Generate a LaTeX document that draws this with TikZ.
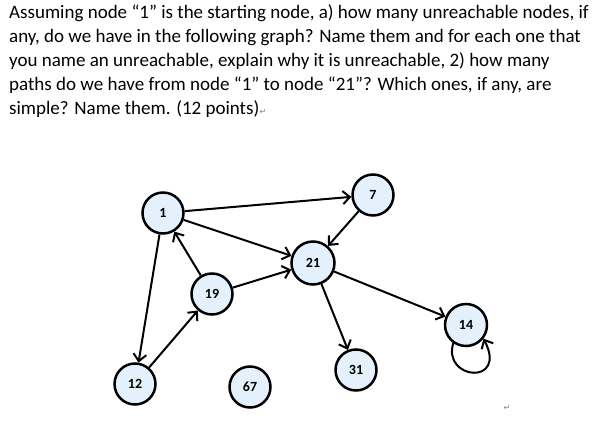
\documentclass[tikz,border=0pt]{standalone}
\usepackage{fontspec}
\setmainfont{Carlito}
\newfontfamily\symfont{DejaVu Sans}
\usetikzlibrary{arrows.meta}
\definecolor{nodefill}{HTML}{E4F0FB}
\begin{document}
\begin{tikzpicture}[x=1pt,y=-1pt,
  vtx/.style={circle,draw=black,line width=2.5pt,fill=nodefill,minimum size=41pt,inner sep=0pt,font=\fontsize{14}{14}\selectfont\bfseries},
  edge/.style={line width=2pt,-{Straight Barb[length=7pt,width=13pt,line width=2pt]}},
  para/.style={anchor=base west,inner sep=0pt,font=\fontsize{19}{24}\selectfont},
  pmark/.style={inner sep=0pt,text=gray,font=\symfont\fontsize{8}{8}\selectfont}]
\useasboundingbox (0,0) rectangle (593,430);
\node[para] (t1) at (9,19) {Assuming node “1” is the starting node, a) how many unreachable nodes, if};
\node[para] (t2) at (9,43) {any, do we have in the following graph? Name them and for each one that};
\node[para] (t3) at (9,67) {you name an unreachable, explain why it is unreachable, 2) how many};
\node[para] (t4) at (9,91) {paths do we have from node “1” to node “21”? Which ones, if any, are};
\node[para] (t5) at (9,115) {simple? Name them. (12 points)};
\node[pmark,anchor=base west] (m1) at (t5.base east) {↵};
\node[pmark] (m2) at (507,408) {↵};

\node[vtx] (n1) at (163,213) {1};
\node[vtx] (n7) at (373,195) {7};
\node[vtx,minimum size=43pt] (n21) at (313,263) {21};
\node[vtx] (n19) at (212,294) {19};
\node[vtx] (n12) at (135,384) {12};
\node[vtx] (n67) at (250,387) {67};
\node[vtx] (n31) at (356,370) {31};
\node[vtx,minimum size=42pt] (n14) at (466,325) {14};

\draw[edge] (n1) -- (n7);
\draw[edge] (n7) -- (n21);
\draw[edge] (n1) -- (n21);
\draw[edge] (n19) -- (n1);
\draw[edge] (n19) -- (n21);
\draw[edge] (n1) -- (n12);
\draw[edge] (n12) -- (n19);
\draw[edge] (n21) -- (n14);
\draw[edge] (n21) -- (n31);
\draw[edge] (n14.235) .. controls (442,380) and (508,386) .. (n14.-38);
\end{tikzpicture}
\end{document}
